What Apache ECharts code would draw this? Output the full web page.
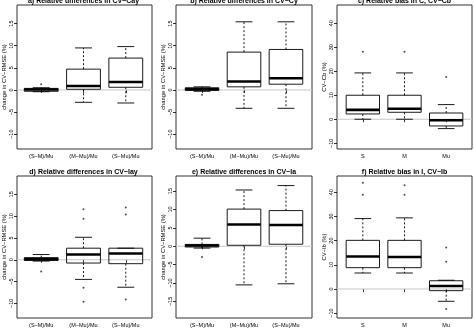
<!DOCTYPE html>
<html><head><meta charset="utf-8">
<script src="https://cdn.jsdelivr.net/npm/echarts@6/dist/echarts.min.js"></script>
<style>html,body{margin:0;padding:0;background:#fff}#c{width:474px;height:328px}</style>
</head><body><div id="c"></div><script>
// ---- categories ----
const catsDiff = ['(S−M)/Mu', '(M−Mu)/Mu', '(S−Mu)/Mu'];
const catsBias = ['S', 'M', 'Mu'];

// ---- titles and axis names ----
const titles = [
  'a) Relative differences in CV−Cay',
  'b) Relative differences in CV−Cy',
  'c) Relative bias in C, CV−Cb',
  'd) Relative differences in CV−Iay',
  'e) Relative differences in CV−Ia',
  'f) Relative bias in I, CV−Ib'
];
const yNames = [
  'change in CV−RMSE (%)', 'change in CV−RMSE (%)', 'CV−Cb (%)',
  'change in CV−RMSE (%)', 'change in CV−RMSE (%)', 'CV−Ib (%)'
];

// ---- box statistics: [lower whisker, Q1, median, Q3, upper whisker] ----
const boxesA = [[-0.4, -0.3, 0.1, 0.35, 0.5], [-2.8, 0.15, 0.9, 4.7, 9.5], [-2.95, 0.6, 1.8, 7.2, 9.8]];
const outliersA = [[0, 1.3]];
const boxesB = [[-0.3, -0.1, 0.15, 0.5, 0.7], [-4.15, 0.7, 1.9, 8.55, 15.4], [-4.15, 1.3, 2.65, 9.15, 15.4]];
const outliersB = [[0, -1.1]];
const boxesC = [[0, 2.2, 3.9, 10, 19.3], [0, 2.9, 4.4, 10, 19.3], [-3.9, -2.8, -0.4, 2.6, 6.1]];
const outliersC = [[0, 28.1], [1, 28.1], [2, 17.6]];
const boxesD = [[-0.3, -0.15, 0.1, 0.5, 1.2], [-4.5, -0.75, 1.2, 2.65, 5.15], [-6.3, -0.9, 1.45, 2.65, 2.65]];
const outliersD = [[0, -2.7], [1, 11.6], [1, 9.4], [1, -6.4], [1, -9.6], [2, 12.0], [2, 10.4], [2, -9.1]];
const boxesE = [[-0.5, -0.2, 0.2, 0.5, 2.2], [-10.5, 0.27, 5.9, 10.1, 15.3], [-10.2, 0.55, 5.8, 9.7, 16.5]];
const outliersE = [[0, -2.9]];
const boxesF = [[6.6, 8.8, 13.4, 20.1, 29.1], [6.6, 8.8, 13.2, 20.1, 29.4], [-5.1, -0.7, 1.2, 3.4, 3.6]];
const outliersF = [[0, 43.9], [0, 39.0], [1, 42.9], [1, 38.9], [2, 17.1], [2, 11.3], [2, -8.3]];

// ---- y limits and tick labels ----
const yLimA = [-13.35, 19.2], yLimB = [-13.35, 19.2], yLimC = [-12.4, 47.6];
const yLimD = [-13.35, 19.2], yLimE = [-19.5, 19.1], yLimF = [-12.0, 46.7];
const ticksDiff = [-10, -5, 0, 5, 10, 15];
const ticksE = [-15, -10, -5, 0, 5, 10, 15];
const ticksBias = [-10, 0, 10, 20, 30, 40];
const zeroLine = [[0, 0], [1, 0]];

const panels = [
  { boxes: boxesA, out: outliersA, cats: catsDiff, lim: yLimA, ticks: ticksDiff },
  { boxes: boxesB, out: outliersB, cats: catsDiff, lim: yLimB, ticks: ticksDiff },
  { boxes: boxesC, out: outliersC, cats: catsBias, lim: yLimC, ticks: ticksBias },
  { boxes: boxesD, out: outliersD, cats: catsDiff, lim: yLimD, ticks: ticksDiff },
  { boxes: boxesE, out: outliersE, cats: catsDiff, lim: yLimE, ticks: ticksE },
  { boxes: boxesF, out: outliersF, cats: catsBias, lim: yLimF, ticks: ticksBias }
];

// ---- layout ----
const colL = [15, 176, 337], colR = [152, 312, 472];
const rowT = [5, 176], rowB = [149, 318];
const FONT = 'Liberation Sans, Arial, sans-serif';

function renderBox(params, api) {
  const xi = api.value(0);
  const p = (v) => api.coord([xi, v]);
  const x = p(api.value(3))[0];
  const yMin = p(api.value(1))[1], yQ1 = p(api.value(2))[1], yMed = p(api.value(3))[1];
  const yQ3 = p(api.value(4))[1], yMax = p(api.value(5))[1];
  const band = api.size([1, 0])[0];
  const hw = band * 0.4, cw = band * 0.2;
  const solid = { stroke: '#000', lineWidth: 0.9, fill: null };
  const dash = { stroke: '#000', lineWidth: 0.9, lineDash: [2, 2], fill: null };
  return {
    type: 'group',
    children: [
      { type: 'line', shape: { x1: x, y1: yQ3, x2: x, y2: yMax }, style: dash },
      { type: 'line', shape: { x1: x, y1: yQ1, x2: x, y2: yMin }, style: dash },
      { type: 'line', shape: { x1: x - cw, y1: yMax, x2: x + cw, y2: yMax }, style: solid },
      { type: 'line', shape: { x1: x - cw, y1: yMin, x2: x + cw, y2: yMin }, style: solid },
      { type: 'rect', shape: { x: x - hw, y: yQ3, width: 2 * hw, height: yQ1 - yQ3 }, style: { stroke: '#000', lineWidth: 0.9, fill: 'rgba(0,0,0,0)' } },
      { type: 'line', shape: { x1: x - hw, y1: yMed, x2: x + hw, y2: yMed }, style: { stroke: '#000', lineWidth: 2.6 } }
    ]
  };
}

const grid = [], xAxis = [], yAxis = [], series = [], graphic = [];
const fmt = (v) => String(v).replace('-', '−');

panels.forEach((pn, i) => {
  const r = Math.floor(i / 3), c = i % 3;
  const L = colL[c], W = colR[c] - colL[c], T = rowT[r], H = rowB[r] - rowT[r];
  const u = W / 3.24;
  const g0 = 2 * i, g1 = 2 * i + 1;
  grid.push({ left: L, top: T, width: W, height: H, show: true, borderColor: '#333', borderWidth: 1, backgroundColor: 'transparent' });
  grid.push({ left: L + 0.12 * u, top: T, width: 3 * u, height: H });
  xAxis.push({ type: 'value', gridIndex: g0, min: 0, max: 1, show: false, splitLine: { show: false } });
  yAxis.push({
    type: 'value', gridIndex: g0, min: pn.lim[0], max: pn.lim[1],
    axisLine: { show: false }, splitLine: { show: false },
    axisTick: { show: true, length: 3, customValues: pn.ticks, lineStyle: { color: '#000', width: 0.8 } },
    axisLabel: { customValues: pn.ticks, rotate: 90, fontSize: 5.5, color: '#000', margin: 3, fontFamily: FONT, formatter: fmt },
    name: yNames[i], nameLocation: 'middle', nameRotate: 90, nameGap: 10,
    nameTextStyle: { fontSize: 5.8, color: '#000', fontFamily: FONT }
  });
  xAxis.push({
    type: 'category', gridIndex: g1, data: pn.cats,
    axisLine: { show: false }, splitLine: { show: false },
    axisTick: { show: true, alignWithLabel: true, length: 3, lineStyle: { color: '#000', width: 0.8 } },
    axisLabel: { fontSize: 5.5, color: '#000', margin: 4, interval: 0, fontFamily: FONT }
  });
  yAxis.push({ type: 'value', gridIndex: g1, min: pn.lim[0], max: pn.lim[1], show: false, splitLine: { show: false } });

  series.push({
    type: 'line', xAxisIndex: g0, yAxisIndex: g0, data: zeroLine, showSymbol: false, silent: true,
    lineStyle: { color: '#c8c8c8', width: 1 }, z: 1, animation: false
  });
  series.push({
    type: 'custom', xAxisIndex: g1, yAxisIndex: g1, renderItem: renderBox,
    data: pn.boxes.map((b, k) => [k].concat(b)),
    encode: { x: 0, y: [1, 2, 3, 4, 5] }, z: 3, animation: false
  });
  series.push({
    type: 'scatter', xAxisIndex: g1, yAxisIndex: g1, data: pn.out,
    symbol: 'circle', symbolSize: 2, itemStyle: { color: '#222' }, z: 4, animation: false
  });
  graphic.push({
    type: 'text', x: L + W / 2, y: T - 0.5,
    style: { text: titles[i], fill: '#000', font: 'bold 7px ' + FONT, textAlign: 'center', textVerticalAlign: 'bottom' }
  });
});

const chart = echarts.init(document.getElementById('c'), null, { renderer: 'canvas' });
chart.setOption({ animation: false, backgroundColor: '#fff', grid, xAxis, yAxis, series, graphic });
</script></body></html>
